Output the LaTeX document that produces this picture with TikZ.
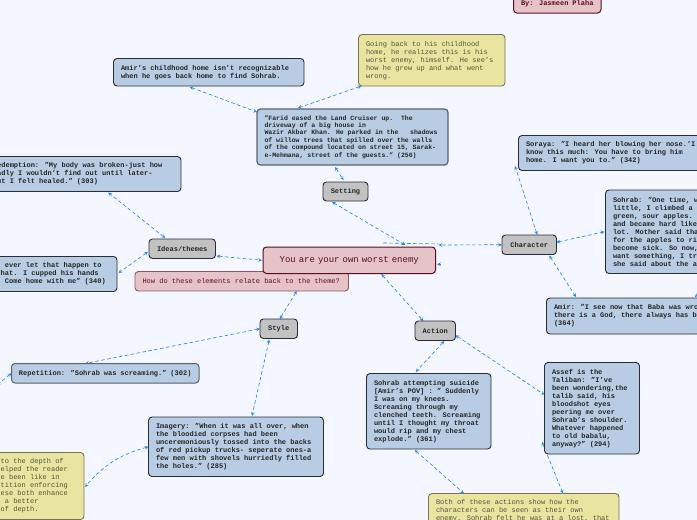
\documentclass[tikz,border=0pt]{standalone}
\usepackage{fontspec}
\setmainfont{Liberation Mono}
\usepackage{xcolor}
\usetikzlibrary{arrows}
\usetikzlibrary{backgrounds}
\definecolor{pagetone}{HTML}{F4F7FF}
\definecolor{bluefill}{HTML}{B8CCE4}
\definecolor{bluedark}{HTML}{2A2D38}
\definecolor{bluegray}{HTML}{5C6170}
\definecolor{yellowfill}{HTML}{E9E5A1}
\definecolor{yellowline}{HTML}{77745A}
\definecolor{yellowtext}{HTML}{55533A}
\definecolor{grayfill}{HTML}{C2C2C2}
\definecolor{pinkfill}{HTML}{E6C3C8}
\definecolor{pinkline}{HTML}{5A0F20}
\definecolor{pinksoft}{HTML}{8F5560}
\definecolor{pinktext}{HTML}{5A0F20}
\definecolor{linkblue}{HTML}{2A86E8}
\tikzset{
  every node/.style={anchor=north west,rounded corners=3.5pt,outer sep=0pt,inner xsep=7.5pt,inner ysep=0pt,align=flush left},
  sized/.style 2 args={text width=#1,minimum height=#2},
  memo/.style={draw=bluedark,line width=.9pt,fill=bluefill,text=black!85,font=\fontsize{7}{8}\selectfont\bfseries},
  memosoft/.style={memo,draw=bluegray,line width=1.2pt},
  remark/.style={draw=yellowline,line width=.9pt,fill=yellowfill,text=yellowtext,font=\fontsize{7}{8}\selectfont},
  topic/.style={draw=bluedark,line width=.9pt,fill=grayfill,text=black!85,align=center,inner xsep=0pt,font=\fontsize{7}{8}\selectfont\bfseries},
  theme/.style={draw=pinkline,line width=1pt,fill=pinkfill,text=pinktext},
  link/.style={<->,>=stealth,color=linkblue,dash pattern=on 3.5pt off 2.5pt,line width=.65pt}
}
\begin{document}
\begin{tikzpicture}[x=1pt,y=-1pt]
  \useasboundingbox (0,0) rectangle (697,520);

  \node (title) [theme,sized={72.5pt}{18pt},font=\fontsize{7}{8}\selectfont\bfseries] at (513.5,-5) {By: Jasmeen Plaha};
  \node (whatwent) [remark,sized={131.5pt}{51.5pt}] at (358.5,34.5) {Going back to his childhood\\home, he realizes this is his\\worst enemy, himself. He see's\\how he grew up and what went\\wrong.};
  \node (amirhome) [memo,sized={175.5pt}{27.5pt}] at (113.5,58.5) {Amir's childhood home isn't recognizable\\when he goes back home to find Sohrab.};
  \node (farid) [memosoft,sized={176pt}{56pt},font=\fontsize{6.5}{7.4}\selectfont\bfseries] at (257,109) {"Farid eased the Land Cruiser up.~~The\\driveway of a big house in\\Wazir Akbar Khan. He parked in the~~~shadows\\of willow trees that spilled over the walls\\of the compound located on street 15, Sarak-\\e-Mehmana, street of the guests." (256)};
  \node (setting) [topic,sized={45pt}{19pt}] at (323,182) {Setting};
  \node (redemption) [memo,sized={180.5pt}{35pt}] at (-14.5,156.5) {Redemption: "My body was broken-just how\\badly I wouldn't find out until later-\\but I felt healed." (303)};
  \node (ideas) [topic,sized={66.5pt}{19.5pt}] at (149,239) {Ideas/themes};
  \node (cuphands) [memo,sized={113pt}{35pt}] at (-11,256.5) {t ever let that happen to\\that. I cupped his hands\\~~Come home with me" (340)};
  \node (relate) [theme,line width=.9pt,draw=pinksoft,sized={198.5pt}{19.5pt},font=\fontsize{7}{8}\selectfont] at (135,271.5) {How do these elements relate back to the theme?};
  \node (root) [theme,align=center,sized={157.5pt}{26.5pt},font=\fontsize{9}{10}\selectfont] at (263,247) {You are your own worst enemy};
  \node (character) [topic,sized={54.5pt}{19.5pt}] at (502,235) {Character};
  \node (soraya) [memo,sized={220pt}{35pt}] at (518.5,135.5) {Soraya: "I heard her blowing her nose.'I\\know this much: You have to bring him\\home. I want you to." (342)};
  \node (apples) [memo,sized={180pt}{83.5pt}] at (605.5,190) {Sohrab: "One time, w\\little, I climbed a\\green, sour apples.\\and became hard like\\lot. Mother said tha\\for the apples to ri\\become sick. So now,\\want something, I tr\\she said about the a};
  \node (amirgod) [memo,sized={220pt}{36pt}] at (546.5,298) {Amir: "I see now that Baba was wro\\there is a God, there always has b\\(364)};
  \node (style) [topic,sized={37.5pt}{19.5pt}] at (260,319) {Style};
  \node (action) [topic,sized={40.5pt}{19.5pt}] at (415,321) {Action};
  \node (repetition) [memosoft,line width=1pt,sized={172.5pt}{19.5pt}] at (11.5,363.5) {Repetition: "Sohrab was screaming." (302)};
  \node (imagery) [memo,sized={160pt}{59.5pt}] at (148.5,417) {Imagery: "When it was all over, when\\the bloodied corpses had been\\unceremoniously tossed into the backs\\of red pickup trucks- seperate ones-a\\few men with shovels hurriedly filled\\the holes." (285)};
  \node (depth) [remark,sized={80pt}{67pt}] at (-11,452.5) {~to the depth of\\helped the reader\\ve been like in\\etition enforcing\\hese both enhance\\s a better\\~of depth.};
  \node (knees) [memo,sized={109.5pt}{75.5pt}] at (366.5,373.5) {Sohrab attempting suicide\\{[}Amir's POV{]} : " Suddenly\\I was on my knees.\\Screaming through my\\clenched teeth. Screaming\\until I thought my throat\\would rip and my chest\\explode." (361)};
  \node (assef) [memo,sized={80pt}{91.5pt}] at (544.5,362.5) {Assef is the\\Taliban: "I've\\been wondering,the\\talib said, his\\bloodshot eyes\\peering me over\\Sohrab's shoulder.\\Whatever happened\\to old babalu,\\anyway?" (294)};
  \node (both) [remark,sized={175.5pt}{34pt}] at (428.5,493.5) {Both of these actions show how the\\characters can be seen as their own\\enemy. Sohrab felt he was at a lost, that};

  \coordinate (repfree) at (-3,385);
  \coordinate (godfree) at (701,291);

  \begin{scope}[on background layer]
    \fill [pagetone] (0,0) rectangle (697,520);
    \path [link] ([xshift=-19pt,yshift=-1pt]amirhome.south) edge ([yshift=-3pt]farid.north west);
    \path [link] ([xshift=3pt]whatwent.south west) edge ([xshift=-54.5pt,yshift=1pt]farid.north);
    \path [link] ([xshift=-17.5pt,yshift=-2pt]farid.south) edge ([xshift=-2pt,yshift=2pt]setting.north);
    \path [link] ([xshift=-13.5pt,yshift=-1pt]setting.south) edge ([xshift=56pt,yshift=2pt]root.north);
    \path [link] (character.west) edge ([xshift=3pt,yshift=2pt]root.north east);
    \path [link,-] ([xshift=34pt,yshift=4pt]root.north) edge ([xshift=3pt,yshift=3pt]root.north east);
    \path [link,<-] ([xshift=1.5pt,yshift=-4pt]root.east) edge ([xshift=5pt,yshift=-4pt]root.east);
    \path [link] ([xshift=1pt,yshift=2.5pt]ideas.south east) edge ([xshift=-1pt]root.west);
    \path [link] ([xshift=-17pt,yshift=1pt]ideas.north) edge ([xshift=25pt,yshift=-1pt]redemption.south);
    \path [link] ([xshift=-1pt,yshift=-3pt]ideas.west) edge ([xshift=1.5pt,yshift=1pt]cuphands.east);
    \path [link] ([xshift=55pt]relate.south) edge ([xshift=1pt]style.north);
    \path [link] ([xshift=32pt,yshift=-.5pt]root.south) edge ([xshift=-12pt]action.north);
    \path [link] (style.west) edge ([xshift=-20pt]repetition.north);
    \path [link] ([xshift=-9.5pt,yshift=-1pt]style.south) edge ([xshift=16pt,yshift=1pt]imagery.north);
    \path [link] (repetition.west) edge (repfree);
    \path [link] (imagery.west) edge[bend right=17] ([xshift=1pt,yshift=-1pt]depth.east);
    \path [link] ([xshift=9pt,yshift=-.5pt]action.south) edge ([xshift=-13pt,yshift=1.5pt]knees.north);
    \path [link] ([yshift=-4.5pt]action.east) edge ([yshift=13.5pt]assef.west);
    \path [link] ([xshift=-14pt,yshift=-1pt]knees.south) edge ([xshift=-59.75pt]both.north);
    \path [link] ([xshift=-2.5pt,yshift=12pt]assef.south west) edge ([xshift=39.25pt]both.north);
    \path [link] ([xshift=8pt]character.north) edge ([xshift=-3.5pt,yshift=4.5pt]soraya.south west);
    \path [link] ([yshift=2.5pt]character.east) edge ([xshift=-1pt]apples.west);
    \path [link] ([xshift=20pt,yshift=-1pt]character.south) edge ([xshift=29.5pt,yshift=1pt]amirgod.north west);
    \path [link,<-] ([xshift=148.5pt,yshift=1pt]amirgod.north west) edge (godfree);
  \end{scope}
\end{tikzpicture}
\end{document}
